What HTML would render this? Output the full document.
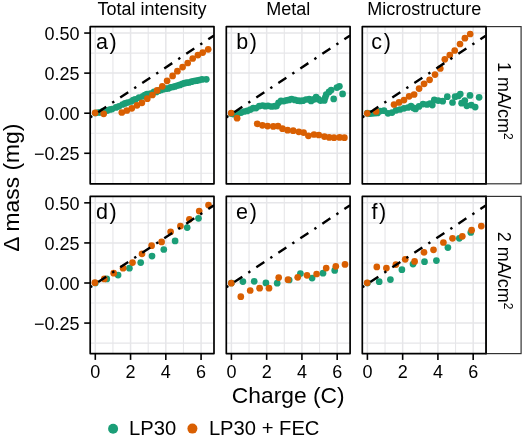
<!DOCTYPE html>
<html><head><meta charset="utf-8"><style>
html,body{margin:0;padding:0;background:#fff;width:524px;height:438px;overflow:hidden}
svg text{font-family:"Liberation Sans",sans-serif;fill:#000}
</style></head><body>
<svg width="524" height="438" viewBox="0 0 524 438" style="position:absolute;left:0;top:0;will-change:transform">
<rect width="524" height="438" fill="#fff"/>
<clipPath id="cp00"><rect x="90.2" y="26.6" width="123.8" height="157.2"/></clipPath>
<clipPath id="cp01"><rect x="226.3" y="26.6" width="123.8" height="157.2"/></clipPath>
<clipPath id="cp02"><rect x="362.3" y="26.6" width="123.8" height="157.2"/></clipPath>
<clipPath id="cp10"><rect x="90.2" y="196.4" width="123.8" height="157.2"/></clipPath>
<clipPath id="cp11"><rect x="226.3" y="196.4" width="123.8" height="157.2"/></clipPath>
<clipPath id="cp12"><rect x="362.3" y="196.4" width="123.8" height="157.2"/></clipPath>
<g clip-path="url(#cp00)">
<line x1="95.30" y1="26.6" x2="95.30" y2="183.79999999999998" stroke="#E6E6E9" stroke-width="1.5"/>
<line x1="112.93" y1="26.6" x2="112.93" y2="183.79999999999998" stroke="#E6E6E9" stroke-width="1.1"/>
<line x1="130.56" y1="26.6" x2="130.56" y2="183.79999999999998" stroke="#E6E6E9" stroke-width="1.5"/>
<line x1="148.19" y1="26.6" x2="148.19" y2="183.79999999999998" stroke="#E6E6E9" stroke-width="1.1"/>
<line x1="165.82" y1="26.6" x2="165.82" y2="183.79999999999998" stroke="#E6E6E9" stroke-width="1.5"/>
<line x1="183.45" y1="26.6" x2="183.45" y2="183.79999999999998" stroke="#E6E6E9" stroke-width="1.1"/>
<line x1="201.08" y1="26.6" x2="201.08" y2="183.79999999999998" stroke="#E6E6E9" stroke-width="1.5"/>
<line x1="90.2" y1="173.31" x2="214.0" y2="173.31" stroke="#E6E6E9" stroke-width="1.1"/>
<line x1="90.2" y1="153.28" x2="214.0" y2="153.28" stroke="#E6E6E9" stroke-width="1.5"/>
<line x1="90.2" y1="133.24" x2="214.0" y2="133.24" stroke="#E6E6E9" stroke-width="1.1"/>
<line x1="90.2" y1="113.20" x2="214.0" y2="113.20" stroke="#E6E6E9" stroke-width="1.5"/>
<line x1="90.2" y1="93.16" x2="214.0" y2="93.16" stroke="#E6E6E9" stroke-width="1.1"/>
<line x1="90.2" y1="73.12" x2="214.0" y2="73.12" stroke="#E6E6E9" stroke-width="1.5"/>
<line x1="90.2" y1="53.09" x2="214.0" y2="53.09" stroke="#E6E6E9" stroke-width="1.1"/>
<line x1="90.2" y1="33.05" x2="214.0" y2="33.05" stroke="#E6E6E9" stroke-width="1.5"/>
<circle cx="95.3" cy="113.0" r="3.35" fill="#1B9E77"/>
<circle cx="98.0" cy="112.5" r="3.35" fill="#1B9E77"/>
<circle cx="100.5" cy="112.3" r="3.35" fill="#1B9E77"/>
<circle cx="103.0" cy="111.2" r="3.35" fill="#1B9E77"/>
<circle cx="105.2" cy="111.1" r="3.35" fill="#1B9E77"/>
<circle cx="107.3" cy="110.5" r="3.35" fill="#1B9E77"/>
<circle cx="109.7" cy="109.5" r="3.35" fill="#1B9E77"/>
<circle cx="112.0" cy="109.1" r="3.35" fill="#1B9E77"/>
<circle cx="116.0" cy="107.4" r="3.35" fill="#1B9E77"/>
<circle cx="119.0" cy="106.3" r="3.35" fill="#1B9E77"/>
<circle cx="122.5" cy="104.5" r="3.35" fill="#1B9E77"/>
<circle cx="125.0" cy="103.4" r="3.35" fill="#1B9E77"/>
<circle cx="127.6" cy="102.5" r="3.35" fill="#1B9E77"/>
<circle cx="131.0" cy="101.5" r="3.35" fill="#1B9E77"/>
<circle cx="133.2" cy="100.1" r="3.35" fill="#1B9E77"/>
<circle cx="135.3" cy="99.4" r="3.35" fill="#1B9E77"/>
<circle cx="139.0" cy="97.7" r="3.35" fill="#1B9E77"/>
<circle cx="142.9" cy="96.3" r="3.35" fill="#1B9E77"/>
<circle cx="144.9" cy="95.2" r="3.35" fill="#1B9E77"/>
<circle cx="147.0" cy="94.2" r="3.35" fill="#1B9E77"/>
<circle cx="150.5" cy="93.6" r="3.35" fill="#1B9E77"/>
<circle cx="154.0" cy="91.9" r="3.35" fill="#1B9E77"/>
<circle cx="156.3" cy="91.9" r="3.35" fill="#1B9E77"/>
<circle cx="158.7" cy="90.7" r="3.35" fill="#1B9E77"/>
<circle cx="161.0" cy="89.9" r="3.35" fill="#1B9E77"/>
<circle cx="163.4" cy="89.2" r="3.35" fill="#1B9E77"/>
<circle cx="165.8" cy="88.7" r="3.35" fill="#1B9E77"/>
<circle cx="168.2" cy="88.5" r="3.35" fill="#1B9E77"/>
<circle cx="170.5" cy="87.3" r="3.35" fill="#1B9E77"/>
<circle cx="172.7" cy="87.0" r="3.35" fill="#1B9E77"/>
<circle cx="175.0" cy="86.4" r="3.35" fill="#1B9E77"/>
<circle cx="177.5" cy="85.5" r="3.35" fill="#1B9E77"/>
<circle cx="179.9" cy="84.9" r="3.35" fill="#1B9E77"/>
<circle cx="182.4" cy="83.8" r="3.35" fill="#1B9E77"/>
<circle cx="184.6" cy="83.2" r="3.35" fill="#1B9E77"/>
<circle cx="186.8" cy="82.7" r="3.35" fill="#1B9E77"/>
<circle cx="189.0" cy="82.5" r="3.35" fill="#1B9E77"/>
<circle cx="191.5" cy="81.7" r="3.35" fill="#1B9E77"/>
<circle cx="194.0" cy="81.0" r="3.35" fill="#1B9E77"/>
<circle cx="196.5" cy="80.7" r="3.35" fill="#1B9E77"/>
<circle cx="199.2" cy="80.1" r="3.35" fill="#1B9E77"/>
<circle cx="202.0" cy="79.4" r="3.35" fill="#1B9E77"/>
<circle cx="206.3" cy="79.3" r="3.35" fill="#1B9E77"/>
<circle cx="95.2" cy="112.8" r="3.35" fill="#D95F02"/>
<circle cx="103.7" cy="113.8" r="3.35" fill="#D95F02"/>
<circle cx="121.8" cy="112.5" r="3.35" fill="#D95F02"/>
<circle cx="126.8" cy="110.5" r="3.35" fill="#D95F02"/>
<circle cx="131.8" cy="108.3" r="3.35" fill="#D95F02"/>
<circle cx="137.0" cy="105.3" r="3.35" fill="#D95F02"/>
<circle cx="141.9" cy="102.8" r="3.35" fill="#D95F02"/>
<circle cx="147.3" cy="98.7" r="3.35" fill="#D95F02"/>
<circle cx="152.4" cy="95.0" r="3.35" fill="#D95F02"/>
<circle cx="157.1" cy="90.4" r="3.35" fill="#D95F02"/>
<circle cx="162.3" cy="86.3" r="3.35" fill="#D95F02"/>
<circle cx="167.1" cy="80.8" r="3.35" fill="#D95F02"/>
<circle cx="172.6" cy="75.9" r="3.35" fill="#D95F02"/>
<circle cx="177.4" cy="71.2" r="3.35" fill="#D95F02"/>
<circle cx="182.6" cy="67.1" r="3.35" fill="#D95F02"/>
<circle cx="187.7" cy="63.0" r="3.35" fill="#D95F02"/>
<circle cx="192.7" cy="58.5" r="3.35" fill="#D95F02"/>
<circle cx="197.9" cy="55.1" r="3.35" fill="#D95F02"/>
<circle cx="202.7" cy="52.6" r="3.35" fill="#D95F02"/>
<circle cx="208.2" cy="49.3" r="3.35" fill="#D95F02"/>
<line x1="90.20" y1="117.43" x2="214.00" y2="35.50" stroke="#000" stroke-width="2.4" stroke-dasharray="2.4 7.2 9.6 7.2"/>
</g>
<rect x="90.2" y="26.6" width="123.8" height="157.2" fill="none" stroke="#000" stroke-width="1.7" stroke-linejoin="round"/>
<g clip-path="url(#cp01)">
<line x1="231.40" y1="26.6" x2="231.40" y2="183.79999999999998" stroke="#E6E6E9" stroke-width="1.5"/>
<line x1="249.03" y1="26.6" x2="249.03" y2="183.79999999999998" stroke="#E6E6E9" stroke-width="1.1"/>
<line x1="266.66" y1="26.6" x2="266.66" y2="183.79999999999998" stroke="#E6E6E9" stroke-width="1.5"/>
<line x1="284.29" y1="26.6" x2="284.29" y2="183.79999999999998" stroke="#E6E6E9" stroke-width="1.1"/>
<line x1="301.92" y1="26.6" x2="301.92" y2="183.79999999999998" stroke="#E6E6E9" stroke-width="1.5"/>
<line x1="319.55" y1="26.6" x2="319.55" y2="183.79999999999998" stroke="#E6E6E9" stroke-width="1.1"/>
<line x1="337.18" y1="26.6" x2="337.18" y2="183.79999999999998" stroke="#E6E6E9" stroke-width="1.5"/>
<line x1="226.3" y1="173.31" x2="350.1" y2="173.31" stroke="#E6E6E9" stroke-width="1.1"/>
<line x1="226.3" y1="153.28" x2="350.1" y2="153.28" stroke="#E6E6E9" stroke-width="1.5"/>
<line x1="226.3" y1="133.24" x2="350.1" y2="133.24" stroke="#E6E6E9" stroke-width="1.1"/>
<line x1="226.3" y1="113.20" x2="350.1" y2="113.20" stroke="#E6E6E9" stroke-width="1.5"/>
<line x1="226.3" y1="93.16" x2="350.1" y2="93.16" stroke="#E6E6E9" stroke-width="1.1"/>
<line x1="226.3" y1="73.12" x2="350.1" y2="73.12" stroke="#E6E6E9" stroke-width="1.5"/>
<line x1="226.3" y1="53.09" x2="350.1" y2="53.09" stroke="#E6E6E9" stroke-width="1.1"/>
<line x1="226.3" y1="33.05" x2="350.1" y2="33.05" stroke="#E6E6E9" stroke-width="1.5"/>
<circle cx="231.3" cy="113.6" r="3.35" fill="#1B9E77"/>
<circle cx="234.0" cy="114.2" r="3.35" fill="#1B9E77"/>
<circle cx="238.2" cy="113.3" r="3.35" fill="#1B9E77"/>
<circle cx="241.1" cy="112.6" r="3.35" fill="#1B9E77"/>
<circle cx="244.0" cy="111.5" r="3.35" fill="#1B9E77"/>
<circle cx="247.2" cy="110.9" r="3.35" fill="#1B9E77"/>
<circle cx="250.4" cy="109.6" r="3.35" fill="#1B9E77"/>
<circle cx="253.2" cy="108.1" r="3.35" fill="#1B9E77"/>
<circle cx="256.0" cy="108.1" r="3.35" fill="#1B9E77"/>
<circle cx="259.3" cy="106.1" r="3.35" fill="#1B9E77"/>
<circle cx="262.6" cy="105.5" r="3.35" fill="#1B9E77"/>
<circle cx="265.3" cy="106.2" r="3.35" fill="#1B9E77"/>
<circle cx="268.0" cy="105.8" r="3.35" fill="#1B9E77"/>
<circle cx="271.4" cy="106.5" r="3.35" fill="#1B9E77"/>
<circle cx="274.8" cy="106.2" r="3.35" fill="#1B9E77"/>
<circle cx="276.5" cy="106.0" r="3.35" fill="#1B9E77"/>
<circle cx="278.5" cy="102.8" r="3.35" fill="#1B9E77"/>
<circle cx="281.0" cy="100.9" r="3.35" fill="#1B9E77"/>
<circle cx="283.8" cy="101.1" r="3.35" fill="#1B9E77"/>
<circle cx="286.5" cy="100.3" r="3.35" fill="#1B9E77"/>
<circle cx="289.1" cy="99.9" r="3.35" fill="#1B9E77"/>
<circle cx="291.6" cy="99.0" r="3.35" fill="#1B9E77"/>
<circle cx="294.8" cy="99.9" r="3.35" fill="#1B9E77"/>
<circle cx="297.9" cy="100.7" r="3.35" fill="#1B9E77"/>
<circle cx="300.4" cy="100.9" r="3.35" fill="#1B9E77"/>
<circle cx="302.9" cy="100.7" r="3.35" fill="#1B9E77"/>
<circle cx="306.0" cy="99.5" r="3.35" fill="#1B9E77"/>
<circle cx="309.2" cy="99.1" r="3.35" fill="#1B9E77"/>
<circle cx="311.1" cy="100.9" r="3.35" fill="#1B9E77"/>
<circle cx="313.6" cy="99.4" r="3.35" fill="#1B9E77"/>
<circle cx="316.1" cy="97.2" r="3.35" fill="#1B9E77"/>
<circle cx="318.3" cy="99.2" r="3.35" fill="#1B9E77"/>
<circle cx="320.5" cy="100.6" r="3.35" fill="#1B9E77"/>
<circle cx="324.3" cy="100.5" r="3.35" fill="#1B9E77"/>
<circle cx="325.2" cy="97.5" r="3.35" fill="#1B9E77"/>
<circle cx="326.2" cy="94.7" r="3.35" fill="#1B9E77"/>
<circle cx="329.0" cy="91.9" r="3.35" fill="#1B9E77"/>
<circle cx="331.2" cy="90.1" r="3.35" fill="#1B9E77"/>
<circle cx="333.7" cy="98.9" r="3.35" fill="#1B9E77"/>
<circle cx="336.9" cy="87.6" r="3.35" fill="#1B9E77"/>
<circle cx="339.4" cy="86.3" r="3.35" fill="#1B9E77"/>
<circle cx="342.6" cy="93.9" r="3.35" fill="#1B9E77"/>
<circle cx="231.2" cy="113.0" r="3.35" fill="#D95F02"/>
<circle cx="237.1" cy="118.2" r="3.35" fill="#D95F02"/>
<circle cx="257.2" cy="123.8" r="3.35" fill="#D95F02"/>
<circle cx="262.4" cy="125.3" r="3.35" fill="#D95F02"/>
<circle cx="267.6" cy="126.1" r="3.35" fill="#D95F02"/>
<circle cx="273.3" cy="126.4" r="3.35" fill="#D95F02"/>
<circle cx="278.0" cy="126.1" r="3.35" fill="#D95F02"/>
<circle cx="282.5" cy="128.7" r="3.35" fill="#D95F02"/>
<circle cx="287.6" cy="130.2" r="3.35" fill="#D95F02"/>
<circle cx="293.2" cy="130.7" r="3.35" fill="#D95F02"/>
<circle cx="298.8" cy="131.8" r="3.35" fill="#D95F02"/>
<circle cx="303.6" cy="132.6" r="3.35" fill="#D95F02"/>
<circle cx="308.4" cy="135.8" r="3.35" fill="#D95F02"/>
<circle cx="314.0" cy="134.5" r="3.35" fill="#D95F02"/>
<circle cx="318.8" cy="135.0" r="3.35" fill="#D95F02"/>
<circle cx="324.4" cy="136.6" r="3.35" fill="#D95F02"/>
<circle cx="329.2" cy="137.4" r="3.35" fill="#D95F02"/>
<circle cx="334.0" cy="137.7" r="3.35" fill="#D95F02"/>
<circle cx="339.6" cy="137.4" r="3.35" fill="#D95F02"/>
<circle cx="344.4" cy="137.7" r="3.35" fill="#D95F02"/>
<line x1="226.30" y1="117.43" x2="350.10" y2="35.50" stroke="#000" stroke-width="2.4" stroke-dasharray="2.4 7.2 9.6 7.2"/>
</g>
<rect x="226.3" y="26.6" width="123.8" height="157.2" fill="none" stroke="#000" stroke-width="1.7" stroke-linejoin="round"/>
<g clip-path="url(#cp02)">
<line x1="367.40" y1="26.6" x2="367.40" y2="183.79999999999998" stroke="#E6E6E9" stroke-width="1.5"/>
<line x1="385.03" y1="26.6" x2="385.03" y2="183.79999999999998" stroke="#E6E6E9" stroke-width="1.1"/>
<line x1="402.66" y1="26.6" x2="402.66" y2="183.79999999999998" stroke="#E6E6E9" stroke-width="1.5"/>
<line x1="420.29" y1="26.6" x2="420.29" y2="183.79999999999998" stroke="#E6E6E9" stroke-width="1.1"/>
<line x1="437.92" y1="26.6" x2="437.92" y2="183.79999999999998" stroke="#E6E6E9" stroke-width="1.5"/>
<line x1="455.55" y1="26.6" x2="455.55" y2="183.79999999999998" stroke="#E6E6E9" stroke-width="1.1"/>
<line x1="473.18" y1="26.6" x2="473.18" y2="183.79999999999998" stroke="#E6E6E9" stroke-width="1.5"/>
<line x1="362.3" y1="173.31" x2="486.1" y2="173.31" stroke="#E6E6E9" stroke-width="1.1"/>
<line x1="362.3" y1="153.28" x2="486.1" y2="153.28" stroke="#E6E6E9" stroke-width="1.5"/>
<line x1="362.3" y1="133.24" x2="486.1" y2="133.24" stroke="#E6E6E9" stroke-width="1.1"/>
<line x1="362.3" y1="113.20" x2="486.1" y2="113.20" stroke="#E6E6E9" stroke-width="1.5"/>
<line x1="362.3" y1="93.16" x2="486.1" y2="93.16" stroke="#E6E6E9" stroke-width="1.1"/>
<line x1="362.3" y1="73.12" x2="486.1" y2="73.12" stroke="#E6E6E9" stroke-width="1.5"/>
<line x1="362.3" y1="53.09" x2="486.1" y2="53.09" stroke="#E6E6E9" stroke-width="1.1"/>
<line x1="362.3" y1="33.05" x2="486.1" y2="33.05" stroke="#E6E6E9" stroke-width="1.5"/>
<circle cx="367.4" cy="113.2" r="3.35" fill="#1B9E77"/>
<circle cx="370.0" cy="113.6" r="3.35" fill="#1B9E77"/>
<circle cx="372.5" cy="113.3" r="3.35" fill="#1B9E77"/>
<circle cx="375.0" cy="113.1" r="3.35" fill="#1B9E77"/>
<circle cx="377.5" cy="112.9" r="3.35" fill="#1B9E77"/>
<circle cx="380.0" cy="111.1" r="3.35" fill="#1B9E77"/>
<circle cx="384.0" cy="110.7" r="3.35" fill="#1B9E77"/>
<circle cx="388.0" cy="113.3" r="3.35" fill="#1B9E77"/>
<circle cx="392.0" cy="112.6" r="3.35" fill="#1B9E77"/>
<circle cx="396.0" cy="110.3" r="3.35" fill="#1B9E77"/>
<circle cx="400.0" cy="109.5" r="3.35" fill="#1B9E77"/>
<circle cx="404.0" cy="108.3" r="3.35" fill="#1B9E77"/>
<circle cx="408.0" cy="107.5" r="3.35" fill="#1B9E77"/>
<circle cx="411.0" cy="106.2" r="3.35" fill="#1B9E77"/>
<circle cx="413.5" cy="107.9" r="3.35" fill="#1B9E77"/>
<circle cx="415.5" cy="109.0" r="3.35" fill="#1B9E77"/>
<circle cx="419.0" cy="106.4" r="3.35" fill="#1B9E77"/>
<circle cx="423.0" cy="104.1" r="3.35" fill="#1B9E77"/>
<circle cx="427.0" cy="104.5" r="3.35" fill="#1B9E77"/>
<circle cx="430.0" cy="103.6" r="3.35" fill="#1B9E77"/>
<circle cx="432.3" cy="105.1" r="3.35" fill="#1B9E77"/>
<circle cx="434.3" cy="99.9" r="3.35" fill="#1B9E77"/>
<circle cx="438.2" cy="100.6" r="3.35" fill="#1B9E77"/>
<circle cx="442.7" cy="101.2" r="3.35" fill="#1B9E77"/>
<circle cx="447.3" cy="96.7" r="3.35" fill="#1B9E77"/>
<circle cx="452.5" cy="102.5" r="3.35" fill="#1B9E77"/>
<circle cx="455.1" cy="96.7" r="3.35" fill="#1B9E77"/>
<circle cx="458.3" cy="96.0" r="3.35" fill="#1B9E77"/>
<circle cx="460.3" cy="94.1" r="3.35" fill="#1B9E77"/>
<circle cx="461.6" cy="103.2" r="3.35" fill="#1B9E77"/>
<circle cx="464.8" cy="100.6" r="3.35" fill="#1B9E77"/>
<circle cx="466.8" cy="105.8" r="3.35" fill="#1B9E77"/>
<circle cx="470.0" cy="95.4" r="3.35" fill="#1B9E77"/>
<circle cx="471.3" cy="105.1" r="3.35" fill="#1B9E77"/>
<circle cx="475.2" cy="107.1" r="3.35" fill="#1B9E77"/>
<circle cx="479.1" cy="97.3" r="3.35" fill="#1B9E77"/>
<circle cx="367.3" cy="113.3" r="3.35" fill="#D95F02"/>
<circle cx="376.1" cy="111.4" r="3.35" fill="#D95F02"/>
<circle cx="394.0" cy="104.5" r="3.35" fill="#D95F02"/>
<circle cx="399.0" cy="102.4" r="3.35" fill="#D95F02"/>
<circle cx="404.0" cy="100.1" r="3.35" fill="#D95F02"/>
<circle cx="409.1" cy="96.3" r="3.35" fill="#D95F02"/>
<circle cx="414.1" cy="94.5" r="3.35" fill="#D95F02"/>
<circle cx="419.1" cy="88.6" r="3.35" fill="#D95F02"/>
<circle cx="424.1" cy="83.8" r="3.35" fill="#D95F02"/>
<circle cx="429.6" cy="79.8" r="3.35" fill="#D95F02"/>
<circle cx="435.0" cy="74.6" r="3.35" fill="#D95F02"/>
<circle cx="440.3" cy="68.5" r="3.35" fill="#D95F02"/>
<circle cx="444.8" cy="59.3" r="3.35" fill="#D95F02"/>
<circle cx="449.8" cy="55.0" r="3.35" fill="#D95F02"/>
<circle cx="454.7" cy="50.5" r="3.35" fill="#D95F02"/>
<circle cx="460.0" cy="44.0" r="3.35" fill="#D95F02"/>
<circle cx="464.9" cy="38.2" r="3.35" fill="#D95F02"/>
<circle cx="470.2" cy="34.0" r="3.35" fill="#D95F02"/>
<line x1="362.30" y1="117.43" x2="486.10" y2="35.50" stroke="#000" stroke-width="2.4" stroke-dasharray="2.4 7.2 9.6 7.2"/>
</g>
<rect x="362.3" y="26.6" width="123.8" height="157.2" fill="none" stroke="#000" stroke-width="1.7" stroke-linejoin="round"/>
<rect x="486.1" y="26.6" width="35" height="157.2" fill="none" stroke="#333" stroke-width="1.2"/>
<rect x="485.5" y="26.0" width="1.2" height="158.39999999999998" fill="#000"/>
<g clip-path="url(#cp10)">
<line x1="95.30" y1="196.4" x2="95.30" y2="353.6" stroke="#E6E6E9" stroke-width="1.5"/>
<line x1="112.93" y1="196.4" x2="112.93" y2="353.6" stroke="#E6E6E9" stroke-width="1.1"/>
<line x1="130.56" y1="196.4" x2="130.56" y2="353.6" stroke="#E6E6E9" stroke-width="1.5"/>
<line x1="148.19" y1="196.4" x2="148.19" y2="353.6" stroke="#E6E6E9" stroke-width="1.1"/>
<line x1="165.82" y1="196.4" x2="165.82" y2="353.6" stroke="#E6E6E9" stroke-width="1.5"/>
<line x1="183.45" y1="196.4" x2="183.45" y2="353.6" stroke="#E6E6E9" stroke-width="1.1"/>
<line x1="201.08" y1="196.4" x2="201.08" y2="353.6" stroke="#E6E6E9" stroke-width="1.5"/>
<line x1="90.2" y1="343.11" x2="214.0" y2="343.11" stroke="#E6E6E9" stroke-width="1.1"/>
<line x1="90.2" y1="323.07" x2="214.0" y2="323.07" stroke="#E6E6E9" stroke-width="1.5"/>
<line x1="90.2" y1="303.04" x2="214.0" y2="303.04" stroke="#E6E6E9" stroke-width="1.1"/>
<line x1="90.2" y1="283.00" x2="214.0" y2="283.00" stroke="#E6E6E9" stroke-width="1.5"/>
<line x1="90.2" y1="262.96" x2="214.0" y2="262.96" stroke="#E6E6E9" stroke-width="1.1"/>
<line x1="90.2" y1="242.93" x2="214.0" y2="242.93" stroke="#E6E6E9" stroke-width="1.5"/>
<line x1="90.2" y1="222.89" x2="214.0" y2="222.89" stroke="#E6E6E9" stroke-width="1.1"/>
<line x1="90.2" y1="202.85" x2="214.0" y2="202.85" stroke="#E6E6E9" stroke-width="1.5"/>
<circle cx="95.3" cy="283.0" r="3.35" fill="#1B9E77"/>
<circle cx="106.8" cy="278.9" r="3.35" fill="#1B9E77"/>
<circle cx="118.1" cy="275.1" r="3.35" fill="#1B9E77"/>
<circle cx="129.4" cy="268.2" r="3.35" fill="#1B9E77"/>
<circle cx="140.7" cy="262.6" r="3.35" fill="#1B9E77"/>
<circle cx="152.0" cy="256.1" r="3.35" fill="#1B9E77"/>
<circle cx="163.8" cy="249.5" r="3.35" fill="#1B9E77"/>
<circle cx="175.1" cy="240.9" r="3.35" fill="#1B9E77"/>
<circle cx="187.2" cy="227.6" r="3.35" fill="#1B9E77"/>
<circle cx="198.5" cy="218.3" r="3.35" fill="#1B9E77"/>
<circle cx="94.9" cy="282.7" r="3.35" fill="#D95F02"/>
<circle cx="104.3" cy="278.9" r="3.35" fill="#D95F02"/>
<circle cx="113.7" cy="273.2" r="3.35" fill="#D95F02"/>
<circle cx="123.1" cy="268.2" r="3.35" fill="#D95F02"/>
<circle cx="132.5" cy="262.6" r="3.35" fill="#D95F02"/>
<circle cx="142.0" cy="253.8" r="3.35" fill="#D95F02"/>
<circle cx="151.6" cy="245.7" r="3.35" fill="#D95F02"/>
<circle cx="161.6" cy="241.9" r="3.35" fill="#D95F02"/>
<circle cx="170.6" cy="231.8" r="3.35" fill="#D95F02"/>
<circle cx="180.4" cy="226.1" r="3.35" fill="#D95F02"/>
<circle cx="189.4" cy="219.3" r="3.35" fill="#D95F02"/>
<circle cx="199.2" cy="211.1" r="3.35" fill="#D95F02"/>
<circle cx="208.5" cy="205.0" r="3.35" fill="#D95F02"/>
<line x1="90.20" y1="287.23" x2="214.00" y2="205.30" stroke="#000" stroke-width="2.4" stroke-dasharray="2.4 7.2 9.6 7.2"/>
</g>
<rect x="90.2" y="196.4" width="123.8" height="157.2" fill="none" stroke="#000" stroke-width="1.7" stroke-linejoin="round"/>
<g clip-path="url(#cp11)">
<line x1="231.40" y1="196.4" x2="231.40" y2="353.6" stroke="#E6E6E9" stroke-width="1.5"/>
<line x1="249.03" y1="196.4" x2="249.03" y2="353.6" stroke="#E6E6E9" stroke-width="1.1"/>
<line x1="266.66" y1="196.4" x2="266.66" y2="353.6" stroke="#E6E6E9" stroke-width="1.5"/>
<line x1="284.29" y1="196.4" x2="284.29" y2="353.6" stroke="#E6E6E9" stroke-width="1.1"/>
<line x1="301.92" y1="196.4" x2="301.92" y2="353.6" stroke="#E6E6E9" stroke-width="1.5"/>
<line x1="319.55" y1="196.4" x2="319.55" y2="353.6" stroke="#E6E6E9" stroke-width="1.1"/>
<line x1="337.18" y1="196.4" x2="337.18" y2="353.6" stroke="#E6E6E9" stroke-width="1.5"/>
<line x1="226.3" y1="343.11" x2="350.1" y2="343.11" stroke="#E6E6E9" stroke-width="1.1"/>
<line x1="226.3" y1="323.07" x2="350.1" y2="323.07" stroke="#E6E6E9" stroke-width="1.5"/>
<line x1="226.3" y1="303.04" x2="350.1" y2="303.04" stroke="#E6E6E9" stroke-width="1.1"/>
<line x1="226.3" y1="283.00" x2="350.1" y2="283.00" stroke="#E6E6E9" stroke-width="1.5"/>
<line x1="226.3" y1="262.96" x2="350.1" y2="262.96" stroke="#E6E6E9" stroke-width="1.1"/>
<line x1="226.3" y1="242.93" x2="350.1" y2="242.93" stroke="#E6E6E9" stroke-width="1.5"/>
<line x1="226.3" y1="222.89" x2="350.1" y2="222.89" stroke="#E6E6E9" stroke-width="1.1"/>
<line x1="226.3" y1="202.85" x2="350.1" y2="202.85" stroke="#E6E6E9" stroke-width="1.5"/>
<circle cx="231.4" cy="283.0" r="3.35" fill="#1B9E77"/>
<circle cx="242.9" cy="281.6" r="3.35" fill="#1B9E77"/>
<circle cx="254.2" cy="281.3" r="3.35" fill="#1B9E77"/>
<circle cx="265.9" cy="282.9" r="3.35" fill="#1B9E77"/>
<circle cx="277.2" cy="283.2" r="3.35" fill="#1B9E77"/>
<circle cx="289.2" cy="280.0" r="3.35" fill="#1B9E77"/>
<circle cx="300.4" cy="273.6" r="3.35" fill="#1B9E77"/>
<circle cx="312.1" cy="278.1" r="3.35" fill="#1B9E77"/>
<circle cx="323.0" cy="273.2" r="3.35" fill="#1B9E77"/>
<circle cx="334.7" cy="270.4" r="3.35" fill="#1B9E77"/>
<circle cx="231.3" cy="283.2" r="3.35" fill="#D95F02"/>
<circle cx="240.8" cy="296.7" r="3.35" fill="#D95F02"/>
<circle cx="250.2" cy="290.5" r="3.35" fill="#D95F02"/>
<circle cx="259.6" cy="288.2" r="3.35" fill="#D95F02"/>
<circle cx="269.0" cy="288.2" r="3.35" fill="#D95F02"/>
<circle cx="278.7" cy="277.6" r="3.35" fill="#D95F02"/>
<circle cx="288.0" cy="279.7" r="3.35" fill="#D95F02"/>
<circle cx="297.7" cy="277.3" r="3.35" fill="#D95F02"/>
<circle cx="307.0" cy="275.3" r="3.35" fill="#D95F02"/>
<circle cx="316.6" cy="274.0" r="3.35" fill="#D95F02"/>
<circle cx="326.2" cy="268.1" r="3.35" fill="#D95F02"/>
<circle cx="335.8" cy="266.3" r="3.35" fill="#D95F02"/>
<circle cx="345.0" cy="264.4" r="3.35" fill="#D95F02"/>
<line x1="226.30" y1="287.23" x2="350.10" y2="205.30" stroke="#000" stroke-width="2.4" stroke-dasharray="2.4 7.2 9.6 7.2"/>
</g>
<rect x="226.3" y="196.4" width="123.8" height="157.2" fill="none" stroke="#000" stroke-width="1.7" stroke-linejoin="round"/>
<g clip-path="url(#cp12)">
<line x1="367.40" y1="196.4" x2="367.40" y2="353.6" stroke="#E6E6E9" stroke-width="1.5"/>
<line x1="385.03" y1="196.4" x2="385.03" y2="353.6" stroke="#E6E6E9" stroke-width="1.1"/>
<line x1="402.66" y1="196.4" x2="402.66" y2="353.6" stroke="#E6E6E9" stroke-width="1.5"/>
<line x1="420.29" y1="196.4" x2="420.29" y2="353.6" stroke="#E6E6E9" stroke-width="1.1"/>
<line x1="437.92" y1="196.4" x2="437.92" y2="353.6" stroke="#E6E6E9" stroke-width="1.5"/>
<line x1="455.55" y1="196.4" x2="455.55" y2="353.6" stroke="#E6E6E9" stroke-width="1.1"/>
<line x1="473.18" y1="196.4" x2="473.18" y2="353.6" stroke="#E6E6E9" stroke-width="1.5"/>
<line x1="362.3" y1="343.11" x2="486.1" y2="343.11" stroke="#E6E6E9" stroke-width="1.1"/>
<line x1="362.3" y1="323.07" x2="486.1" y2="323.07" stroke="#E6E6E9" stroke-width="1.5"/>
<line x1="362.3" y1="303.04" x2="486.1" y2="303.04" stroke="#E6E6E9" stroke-width="1.1"/>
<line x1="362.3" y1="283.00" x2="486.1" y2="283.00" stroke="#E6E6E9" stroke-width="1.5"/>
<line x1="362.3" y1="262.96" x2="486.1" y2="262.96" stroke="#E6E6E9" stroke-width="1.1"/>
<line x1="362.3" y1="242.93" x2="486.1" y2="242.93" stroke="#E6E6E9" stroke-width="1.5"/>
<line x1="362.3" y1="222.89" x2="486.1" y2="222.89" stroke="#E6E6E9" stroke-width="1.1"/>
<line x1="362.3" y1="202.85" x2="486.1" y2="202.85" stroke="#E6E6E9" stroke-width="1.5"/>
<circle cx="367.4" cy="283.0" r="3.35" fill="#1B9E77"/>
<circle cx="379.2" cy="281.7" r="3.35" fill="#1B9E77"/>
<circle cx="390.4" cy="279.6" r="3.35" fill="#1B9E77"/>
<circle cx="401.9" cy="269.7" r="3.35" fill="#1B9E77"/>
<circle cx="413.0" cy="264.1" r="3.35" fill="#1B9E77"/>
<circle cx="424.5" cy="261.7" r="3.35" fill="#1B9E77"/>
<circle cx="436.4" cy="260.6" r="3.35" fill="#1B9E77"/>
<circle cx="447.9" cy="247.6" r="3.35" fill="#1B9E77"/>
<circle cx="459.3" cy="238.3" r="3.35" fill="#1B9E77"/>
<circle cx="470.8" cy="232.4" r="3.35" fill="#1B9E77"/>
<circle cx="367.2" cy="282.8" r="3.35" fill="#D95F02"/>
<circle cx="376.8" cy="266.9" r="3.35" fill="#D95F02"/>
<circle cx="386.4" cy="268.1" r="3.35" fill="#D95F02"/>
<circle cx="395.9" cy="264.6" r="3.35" fill="#D95F02"/>
<circle cx="405.2" cy="259.3" r="3.35" fill="#D95F02"/>
<circle cx="414.6" cy="261.4" r="3.35" fill="#D95F02"/>
<circle cx="424.0" cy="252.3" r="3.35" fill="#D95F02"/>
<circle cx="433.5" cy="249.8" r="3.35" fill="#D95F02"/>
<circle cx="443.4" cy="242.5" r="3.35" fill="#D95F02"/>
<circle cx="452.5" cy="238.3" r="3.35" fill="#D95F02"/>
<circle cx="462.3" cy="236.3" r="3.35" fill="#D95F02"/>
<circle cx="471.6" cy="230.2" r="3.35" fill="#D95F02"/>
<circle cx="481.3" cy="226.1" r="3.35" fill="#D95F02"/>
<line x1="362.30" y1="287.23" x2="486.10" y2="205.30" stroke="#000" stroke-width="2.4" stroke-dasharray="2.4 7.2 9.6 7.2"/>
</g>
<rect x="362.3" y="196.4" width="123.8" height="157.2" fill="none" stroke="#000" stroke-width="1.7" stroke-linejoin="round"/>
<rect x="486.1" y="196.4" width="35" height="157.2" fill="none" stroke="#333" stroke-width="1.2"/>
<rect x="485.5" y="195.8" width="1.2" height="158.39999999999998" fill="#000"/>
<line x1="84.2" y1="33.05" x2="90.2" y2="33.05" stroke="#000" stroke-width="1.6"/>
<text x="79.6" y="40.25" text-anchor="end" font-size="18.0">0.50</text>
<line x1="84.2" y1="73.12" x2="90.2" y2="73.12" stroke="#000" stroke-width="1.6"/>
<text x="79.6" y="80.33" text-anchor="end" font-size="18.0">0.25</text>
<line x1="84.2" y1="113.20" x2="90.2" y2="113.20" stroke="#000" stroke-width="1.6"/>
<text x="79.6" y="120.40" text-anchor="end" font-size="18.0">0.00</text>
<line x1="84.2" y1="153.28" x2="90.2" y2="153.28" stroke="#000" stroke-width="1.6"/>
<text x="79.6" y="160.47" text-anchor="end" font-size="18.0">−0.25</text>
<line x1="84.2" y1="202.85" x2="90.2" y2="202.85" stroke="#000" stroke-width="1.6"/>
<text x="79.6" y="210.05" text-anchor="end" font-size="18.0">0.50</text>
<line x1="84.2" y1="242.93" x2="90.2" y2="242.93" stroke="#000" stroke-width="1.6"/>
<text x="79.6" y="250.12" text-anchor="end" font-size="18.0">0.25</text>
<line x1="84.2" y1="283.00" x2="90.2" y2="283.00" stroke="#000" stroke-width="1.6"/>
<text x="79.6" y="290.20" text-anchor="end" font-size="18.0">0.00</text>
<line x1="84.2" y1="323.07" x2="90.2" y2="323.07" stroke="#000" stroke-width="1.6"/>
<text x="79.6" y="330.27" text-anchor="end" font-size="18.0">−0.25</text>
<line x1="95.30" y1="353.6" x2="95.30" y2="359.90000000000003" stroke="#000" stroke-width="1.6"/>
<text x="95.30" y="377.5" text-anchor="middle" font-size="18.0">0</text>
<line x1="130.56" y1="353.6" x2="130.56" y2="359.90000000000003" stroke="#000" stroke-width="1.6"/>
<text x="130.56" y="377.5" text-anchor="middle" font-size="18.0">2</text>
<line x1="165.82" y1="353.6" x2="165.82" y2="359.90000000000003" stroke="#000" stroke-width="1.6"/>
<text x="165.82" y="377.5" text-anchor="middle" font-size="18.0">4</text>
<line x1="201.08" y1="353.6" x2="201.08" y2="359.90000000000003" stroke="#000" stroke-width="1.6"/>
<text x="201.08" y="377.5" text-anchor="middle" font-size="18.0">6</text>
<line x1="231.40" y1="353.6" x2="231.40" y2="359.90000000000003" stroke="#000" stroke-width="1.6"/>
<text x="231.40" y="377.5" text-anchor="middle" font-size="18.0">0</text>
<line x1="266.66" y1="353.6" x2="266.66" y2="359.90000000000003" stroke="#000" stroke-width="1.6"/>
<text x="266.66" y="377.5" text-anchor="middle" font-size="18.0">2</text>
<line x1="301.92" y1="353.6" x2="301.92" y2="359.90000000000003" stroke="#000" stroke-width="1.6"/>
<text x="301.92" y="377.5" text-anchor="middle" font-size="18.0">4</text>
<line x1="337.18" y1="353.6" x2="337.18" y2="359.90000000000003" stroke="#000" stroke-width="1.6"/>
<text x="337.18" y="377.5" text-anchor="middle" font-size="18.0">6</text>
<line x1="367.40" y1="353.6" x2="367.40" y2="359.90000000000003" stroke="#000" stroke-width="1.6"/>
<text x="367.40" y="377.5" text-anchor="middle" font-size="18.0">0</text>
<line x1="402.66" y1="353.6" x2="402.66" y2="359.90000000000003" stroke="#000" stroke-width="1.6"/>
<text x="402.66" y="377.5" text-anchor="middle" font-size="18.0">2</text>
<line x1="437.92" y1="353.6" x2="437.92" y2="359.90000000000003" stroke="#000" stroke-width="1.6"/>
<text x="437.92" y="377.5" text-anchor="middle" font-size="18.0">4</text>
<line x1="473.18" y1="353.6" x2="473.18" y2="359.90000000000003" stroke="#000" stroke-width="1.6"/>
<text x="473.18" y="377.5" text-anchor="middle" font-size="18.0">6</text>
<text x="152.10" y="14.8" text-anchor="middle" font-size="18.0">Total intensity</text>
<text x="288.20" y="14.8" text-anchor="middle" font-size="18.0">Metal</text>
<text x="424.20" y="14.8" text-anchor="middle" font-size="18.0">Microstructure</text>
<text transform="translate(497.60,100.90) rotate(90)" text-anchor="middle" font-size="18.0">1 mA/cm<tspan font-size="12" dy="-6">2</tspan></text>
<text transform="translate(497.60,270.70) rotate(90)" text-anchor="middle" font-size="18.0">2 mA/cm<tspan font-size="12" dy="-6">2</tspan></text>
<text x="288.2" y="402.8" text-anchor="middle" font-size="22.8">Charge (C)</text>
<text transform="translate(18.9,187.7) rotate(-90)" text-anchor="middle" font-size="22.8">Δ mass (mg)</text>
<circle cx="113.1" cy="428.7" r="5.0" fill="#1B9E77"/>
<text x="129.0" y="435.1" font-size="20.2">LP30</text>
<circle cx="192.4" cy="428.6" r="5.0" fill="#D95F02"/>
<text x="208.9" y="435.1" font-size="20.2">LP30 + FEC</text>
<text x="95.90" y="49.20" font-size="21.5" letter-spacing="1.6">a)</text>
<text x="236.30" y="49.20" font-size="21.5" letter-spacing="1.6">b)</text>
<text x="371.30" y="49.20" font-size="21.5" letter-spacing="1.6">c)</text>
<text x="95.90" y="219.00" font-size="21.5" letter-spacing="1.6">d)</text>
<text x="236.10" y="219.00" font-size="21.5" letter-spacing="1.6">e)</text>
<text x="371.40" y="219.00" font-size="21.5" letter-spacing="1.6">f)</text>
</svg>
</body></html>
